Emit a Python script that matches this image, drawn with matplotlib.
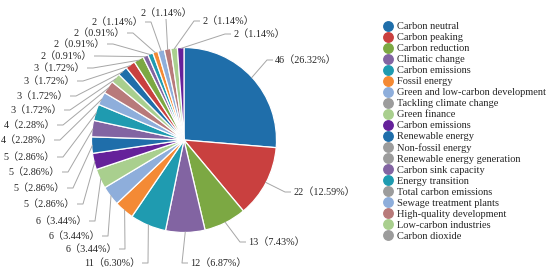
import numpy as np
import matplotlib
matplotlib.use("Agg")
import matplotlib.pyplot as plt
from matplotlib.lines import Line2D

# ---------------- data ----------------
counts = [46, 22, 13, 12, 11, 6, 6, 6, 5, 5, 5, 5, 4, 4, 3, 3, 3, 3, 2, 2, 2, 2, 2, 2, 2]
percents = [26.32, 12.59, 7.43, 6.87, 6.30, 3.44, 3.44, 3.44, 2.86, 2.86, 2.86, 2.86,
            2.28, 2.28, 1.72, 1.72, 1.72, 1.72, 0.91, 0.91, 0.91, 1.14, 1.14, 1.14, 1.14]
slice_colors = ["#1f6eaa", "#c9403f", "#7ca843", "#8264a2", "#1f9bb0", "#f48a35",
                "#8eaedb", "#a9cf8e", "#65219a", "#1f6eaa", "#8264a2", "#1f9bb0",
                "#8eaedb", "#b87a7a", "#a9cf8e", "#1f6eaa", "#c9403f", "#7ca843",
                "#8264a2", "#1f9bb0", "#f48a35", "#8eaedb", "#b87a7a", "#a9cf8e",
                "#65219a"]

legend_labels = ["Carbon neutral", "Carbon peaking", "Carbon reduction", "Climatic change",
                 "Carbon emissions", "Fossil energy", "Green and low-carbon development",
                 "Tackling climate change", "Green finance", "Carbon emissions",
                 "Renewable energy", "Non-fossil energy", "Renewable energy generation",
                 "Carbon sink capacity", "Energy transition", "Total carbon emissions",
                 "Sewage treatment plants", "High-quality development",
                 "Low-carbon industries", "Carbon dioxide"]
legend_colors = ["#1f6eaa", "#c9403f", "#7ca843", "#8264a2", "#1f9bb0", "#f48a35",
                 "#8eaedb", "#9c9c9c", "#a9cf8e", "#65219a", "#1f6eaa", "#9c9c9c",
                 "#9c9c9c", "#8264a2", "#1f9bb0", "#9c9c9c", "#8eaedb", "#b87a7a",
                 "#a9cf8e", "#9c9c9c"]

# ---------------- layout (pixels) ----------------
W, H = 550, 275
CX, CY, R = 184, 140, 92.5
# label anchor (px x, px y, alignment) per slice
label_layout = [
    (275, 60, "left"), (293, 192, "left"), (248, 242, "left"), (190, 263, "left"),
    (140, 263, "right"), (117, 249, "right"), (100, 236, "right"), (87, 221, "right"),
    (75, 204, "right"), (65, 188, "right"), (60, 172, "right"), (55, 157, "right"),
    (52, 140, "right"), (55, 125, "right"), (62, 110, "right"), (68, 96, "right"),
    (75, 81, "right"), (85, 68, "right"), (92, 56, "right"), (105, 44, "right"),
    (125, 33, "right"), (143, 22, "right"), (166, 13, "center"), (202, 21, "left"),
    (233, 34, "left"),
]

txt_font = ["Liberation Serif", "Noto Sans CJK SC"]

fig = plt.figure(figsize=(W / 100, H / 100), dpi=100)
ax = fig.add_axes([0, 0, 1, 1])

wedges, _ = ax.pie(percents, colors=slice_colors, startangle=90, counterclock=False,
                   radius=1.0, wedgeprops=dict(edgecolor="white", linewidth=0.9))
ax.set_xlim(-CX / R, (W - CX) / R)
ax.set_ylim(-(H - CY) / R, CY / R)
ax.set_aspect("equal", adjustable="box")
ax.axis("off")


def px2d(px, py):
    return (px - CX) / R, (CY - py) / R


for w, c, p, (px, py, ha) in zip(wedges, counts, percents, label_layout):
    mid = np.deg2rad((w.theta1 + w.theta2) / 2)
    ex, ey = np.cos(mid) * 0.99, np.sin(mid) * 0.99
    tx, ty = px2d(px, py)
    if ha == "right":
        sx, sy = px2d(px + 2, py)
        kx, ky = px2d(px + 8, py)
        pts = [(sx, sy), (kx, ky), (ex, ey)]
    elif ha == "left":
        sx, sy = px2d(px - 2, py)
        kx, ky = px2d(px - 8, py)
        pts = [(sx, sy), (kx, ky), (ex, ey)]
    else:
        sx, sy = px2d(px, py + 6)
        pts = [(sx, sy), (ex, ey)]
    xs, ys = zip(*pts)
    ax.plot(xs, ys, color="#a6a6a6", lw=0.7, solid_capstyle="butt")
    ax.text(tx, ty, f"{c}（{p:.2f}%）", ha=ha, va="center", fontsize=7.3,
            family=txt_font, color="#262626")

handles = [Line2D([], [], marker="o", linestyle="", markersize=6.8,
                  markerfacecolor=col, markeredgecolor=col) for col in legend_colors]
fig.legend(handles, legend_labels, loc="upper left",
           bbox_to_anchor=(384 / W, 1 - 22 / H), frameon=False,
           prop=dict(family=txt_font, size=7.5), labelspacing=0.165,
           handlelength=0.8, handletextpad=0.45, borderpad=0, borderaxespad=0,
           labelcolor="#262626")

fig.savefig("out.png", dpi=100)
